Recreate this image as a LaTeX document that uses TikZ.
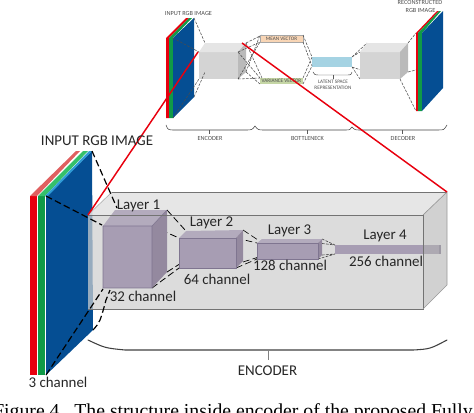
\documentclass[tikz,border=0pt]{standalone}
\usepackage{fontspec}
\setmainfont{Carlito}
\newfontfamily\capfont{Liberation Serif}
\definecolor{blueA}{HTML}{054E93}
\definecolor{blueB}{HTML}{2E9BD6}
\definecolor{redA}{HTML}{E8000E}
\definecolor{redB}{HTML}{E06060}
\definecolor{greenA}{HTML}{109A47}
\definecolor{greenB}{HTML}{35C06A}
\definecolor{purF}{HTML}{A79DB3}
\definecolor{purT}{HTML}{B3ABBD}
\definecolor{purS}{HTML}{94899F}
\definecolor{purE}{HTML}{7F7590}
\definecolor{peachC}{HTML}{F8D5B5}
\definecolor{varC}{HTML}{C5D6A5}
\definecolor{latC}{HTML}{A5D3E3}
\tikzset{
  x=0.75pt,y=-0.75pt,
  big/.style={font=\fontsize{11.2}{12}\selectfont,inner sep=0pt,text=black!85},
  tiny/.style={font=\fontsize{4.7}{5.5}\selectfont,inner sep=0pt,text=black!70},
  tinier/.style={font=\fontsize{3.9}{4.5}\selectfont,inner sep=0pt,text=black!70},
  dashA/.style={black,line width=0.9pt,dash pattern=on 5pt off 2.5pt},
  dashB/.style={black!70,line width=0.4pt,dash pattern=on 2pt off 1pt},
  redline/.style={redA,line width=1.1pt},
  brace/.style={black!75,line width=0.7pt,line cap=round},
  braceS/.style={black!65,line width=0.35pt},
  purp/.style={draw=purE,line width=0.4pt},
}
\begin{document}
\begin{tikzpicture}
\useasboundingbox (0,0) rectangle (474,412);
\clip (0,0) rectangle (474,412);
% ---------- mini overview ----------
\node[tiny] (tinput) at (188.5,13) {INPUT RGB IMAGE};
\fill[redA] (166,38) -- (186,18) -- (189,18) -- (169,38) -- (169,118) -- (166,118) -- cycle;
\fill[greenA] (169,38) -- (189,18) -- (192,18) -- (173,38) -- (173,118) -- (169,118) -- cycle;
\fill[blueA] (173,38) -- (194,18) -- (194,97) -- (173,118) -- cycle;
% mini encoder
\fill[black!17] (199,52) rectangle (238,79);
\fill[black!10] (199,52) -- (205,43) -- (246,43) -- (238,52) -- cycle;
\fill[black!27] (238,52) -- (246,43) -- (246,72) -- (238,79) -- cycle;
\draw[dashB] (194,18) -- (205,43) (173,38) -- (199,52) (173,118) -- (199,79) (194,97) -- (205,72);
\draw[dashB] (246,43) -- (262,35) (238,52) -- (260,42) (246,72) -- (260,84) (238,79) -- (260,78) (238,52) -- (260,78) (246,43) -- (262,78) (238,79) -- (260,42) (246,72) -- (260,35);
\node[draw=black!35,line width=0.2pt,fill=peachC,minimum width=32pt,minimum height=5pt,inner sep=0pt] (mean) at (281.5,38.5) {};
\node[tinier] (meant) at (281.5,38.5) {MEAN VECTOR};
\node[fill=varC,minimum width=32pt,minimum height=4.6pt,inner sep=0pt] (var) at (281.5,81) {};
\node[tinier] (vart) at (281.5,81) {VARIANCE VECTOR};
% latent
\node[fill=latC,minimum width=30pt,minimum height=7.5pt,inner sep=0pt] (lat) at (332,62) {};
\draw[dashB] (303,35) -- (312,57) (303,42) -- (312,66) (303,78) -- (312,57) (303,84) -- (312,66) (352,57) -- (360,52) (352,67) -- (360,79) (352,57) -- (367,43) (352,67) -- (367,72);
% mini decoder
\fill[black!17] (360,52) rectangle (400,79);
\fill[black!10] (360,52) -- (367,43) -- (408,43) -- (400,52) -- cycle;
\fill[black!27] (400,52) -- (408,43) -- (408,72) -- (400,79) -- cycle;
\draw[dashB] (408,43) -- (416,33) (400,79) -- (416,111) (408,72) -- (416,70);
% output
\fill[redA] (416,33) -- (437,11) -- (439,11) -- (418,33) -- (418,111) -- (416,111) -- cycle;
\fill[greenA] (418,33) -- (439,11) -- (441,11) -- (422,33) -- (422,111) -- (418,111) -- cycle;
\fill[blueA] (422,33) -- (443,11) -- (443,88) -- (422,111) -- cycle;
\node[tiny] (recon) at (420,2) {RECONSTRUCTED};
\node[tiny] (rgbt) at (420.5,10) {RGB IMAGE};
\node[tinier] (latA) at (333,82) {LATENT SPACE};
\node[tinier] (latB) at (333,88) {REPRESENTATION};
\draw[brace,line width=0.35pt] (313,72) .. controls (315,75) .. (318,75) -- (348,75) .. controls (351,75) .. (352,72);
\draw[braceS] (333,75) -- (333,79);
% mini braces
\draw[brace,line width=0.4pt] (166,125) .. controls (168,130) .. (175,130) -- (245,130) .. controls (252,130) .. (255,126)
  .. controls (258,130) .. (265,130) -- (345,130) .. controls (350,130) .. (352,127)
  .. controls (355,130) .. (360,130) -- (438,130) .. controls (444,130) .. (447,125);
\draw[braceS] (209,130) -- (209,134) (307,130) -- (307,134) (402,130) -- (402,134);
\node[tiny] (tenc) at (210,138) {ENCODER};
\node[tiny] (tbot) at (307.5,138) {BOTTLENECK};
\node[tiny] (tdec) at (403,138) {DECODER};
% ---------- large input ----------
\fill[redA] (30,196) rectangle (37,375);
\fill[greenA] (38,196) rectangle (45,375);
\fill[blueA] (46,196) -- (92,151) -- (93,330) -- (46,375) -- cycle;
\fill[redB] (30,196) -- (76,151) -- (80,151) -- (37,196) -- cycle;
\fill[greenB] (38,196) -- (83,151) -- (88,151) -- (45,196) -- cycle;
\fill[blueB] (45,196) -- (89,151) -- (92,151) -- (48,196) -- cycle;
% large encoder box
\coordinate (fTL) at (88,215);
\coordinate (fTR) at (423,215);
\coordinate (fBR) at (423,309);
\coordinate (fBL) at (88,309);
\coordinate (bTL) at (112,192);
\coordinate (bTR) at (447,192);
\coordinate (bBR) at (447,285);
\fill[black!11,opacity=.9] (fTL) -- (bTL) -- (bTR) -- (fTR) -- cycle;
\fill[black!19,opacity=.72] (fTL) rectangle (fBR);
\draw[black!55,line width=0.7pt] (bTL) -- (bTR);
% layers
\draw[dashA,line width=0.6pt] (167,210) -- (186,231) (152,226) -- (179,238) (152,288) -- (179,268) (167,272) -- (186,260);
\draw[dashA,line width=0.5pt] (243,230) -- (258,240) (236,238) -- (257,243) (236,268) -- (257,259) (243,262) -- (262,256);
\draw[dashB,line width=0.5pt] (322,239) -- (335,245) (318,243) -- (335,245) (318,259) -- (335,254) (322,255) -- (335,254);
% layer 1
\fill[purF] (103,226) rectangle (152,288);
\fill[purT] (103,226) -- (115,210) -- (167,210) -- (152,226) -- cycle;
\fill[purS] (152,226) -- (167,210) -- (167,272) -- (152,288) -- cycle;
\draw[purp] (103,226) rectangle (152,288) (152,226) -- (167,210);
% layer 2
\fill[purF] (179,238) rectangle (236,268);
\fill[purT] (179,238) -- (186,231) -- (243,230) -- (236,238) -- cycle;
\fill[purS] (236,238) -- (243,230) -- (243,261) -- (236,268) -- cycle;
\draw[purp] (179,238) rectangle (236,268);
% layer 3
\fill[purF] (257,243) rectangle (318,259);
\fill[purT] (257,243) -- (262,239) -- (322,239) -- (318,243) -- cycle;
\fill[purS] (318,243) -- (322,239) -- (322,255) -- (318,259) -- cycle;
\draw[purp] (257,243) rectangle (318,259);
% layer 4
\fill[purF] (335,245) rectangle (441,254);
\fill[purE] (439,245) rectangle (441,254);
% box right face over layer 4
\fill[black!30,opacity=.6] (fTR) -- (bTR) -- (bBR) -- (fBR) -- cycle;
\draw[black!55,line width=0.7pt] (fTL) -- (fTR) -- (fBR) -- (fBL);
\draw[black!40,line width=0.5pt] (fTR) -- (bTR) -- (bBR) -- (fBR);
\draw[black!30,line width=0.5pt] (fTL) -- (bTL);
% input to layer 1 dashes
\draw[dashA] (92,151) -- (117,208);
\draw[dashA] (46,196) -- (102,225);
\draw[dashA] (46,375) -- (103,289);
\draw[dashA] (93,330) .. controls (100,322) .. (106,300) -- (110,290);
% red
\draw[redline] (fTL) -- (198,52);
\draw[redline] (242,43) -- (bTR);
% labels
\node[big] (tin) at (97,141) {INPUT RGB IMAGE};
\node[big] (l1) at (138.5,206) {Layer 1};
\node[big] (l2) at (211.5,223) {Layer 2};
\node[big] (l3) at (289.5,231) {Layer 3};
\node[big] (l4) at (385,236) {Layer 4};
\node[big] (c32) at (143,296) {32 channel};
\node[big] (c64) at (217,279) {64 channel};
\node[big] (c128) at (290,265) {128 channel};
\node[big] (c256) at (386,261) {256 channel};
\node[big] (c3) at (58,382) {3 channel};
\node[big] (cenc) at (267.5,371) {ENCODER};
\coordinate (brL) at (88,340);
\coordinate (brR) at (447,340);
\draw[brace,line width=0.8pt] (brL) .. controls (105,348) .. (125,350) -- (413,350) .. controls (430,349) .. (brR);
\draw[black!50,line width=0.5pt] (268,350) -- (268,360);
% caption
\node[anchor=base west,inner sep=0pt,font=\capfont\fontsize{14.8}{16}\selectfont] (cap) at (-7,417) {Figure 4.\ \ The structure inside encoder of the proposed Fully};
\end{tikzpicture}
\end{document}
